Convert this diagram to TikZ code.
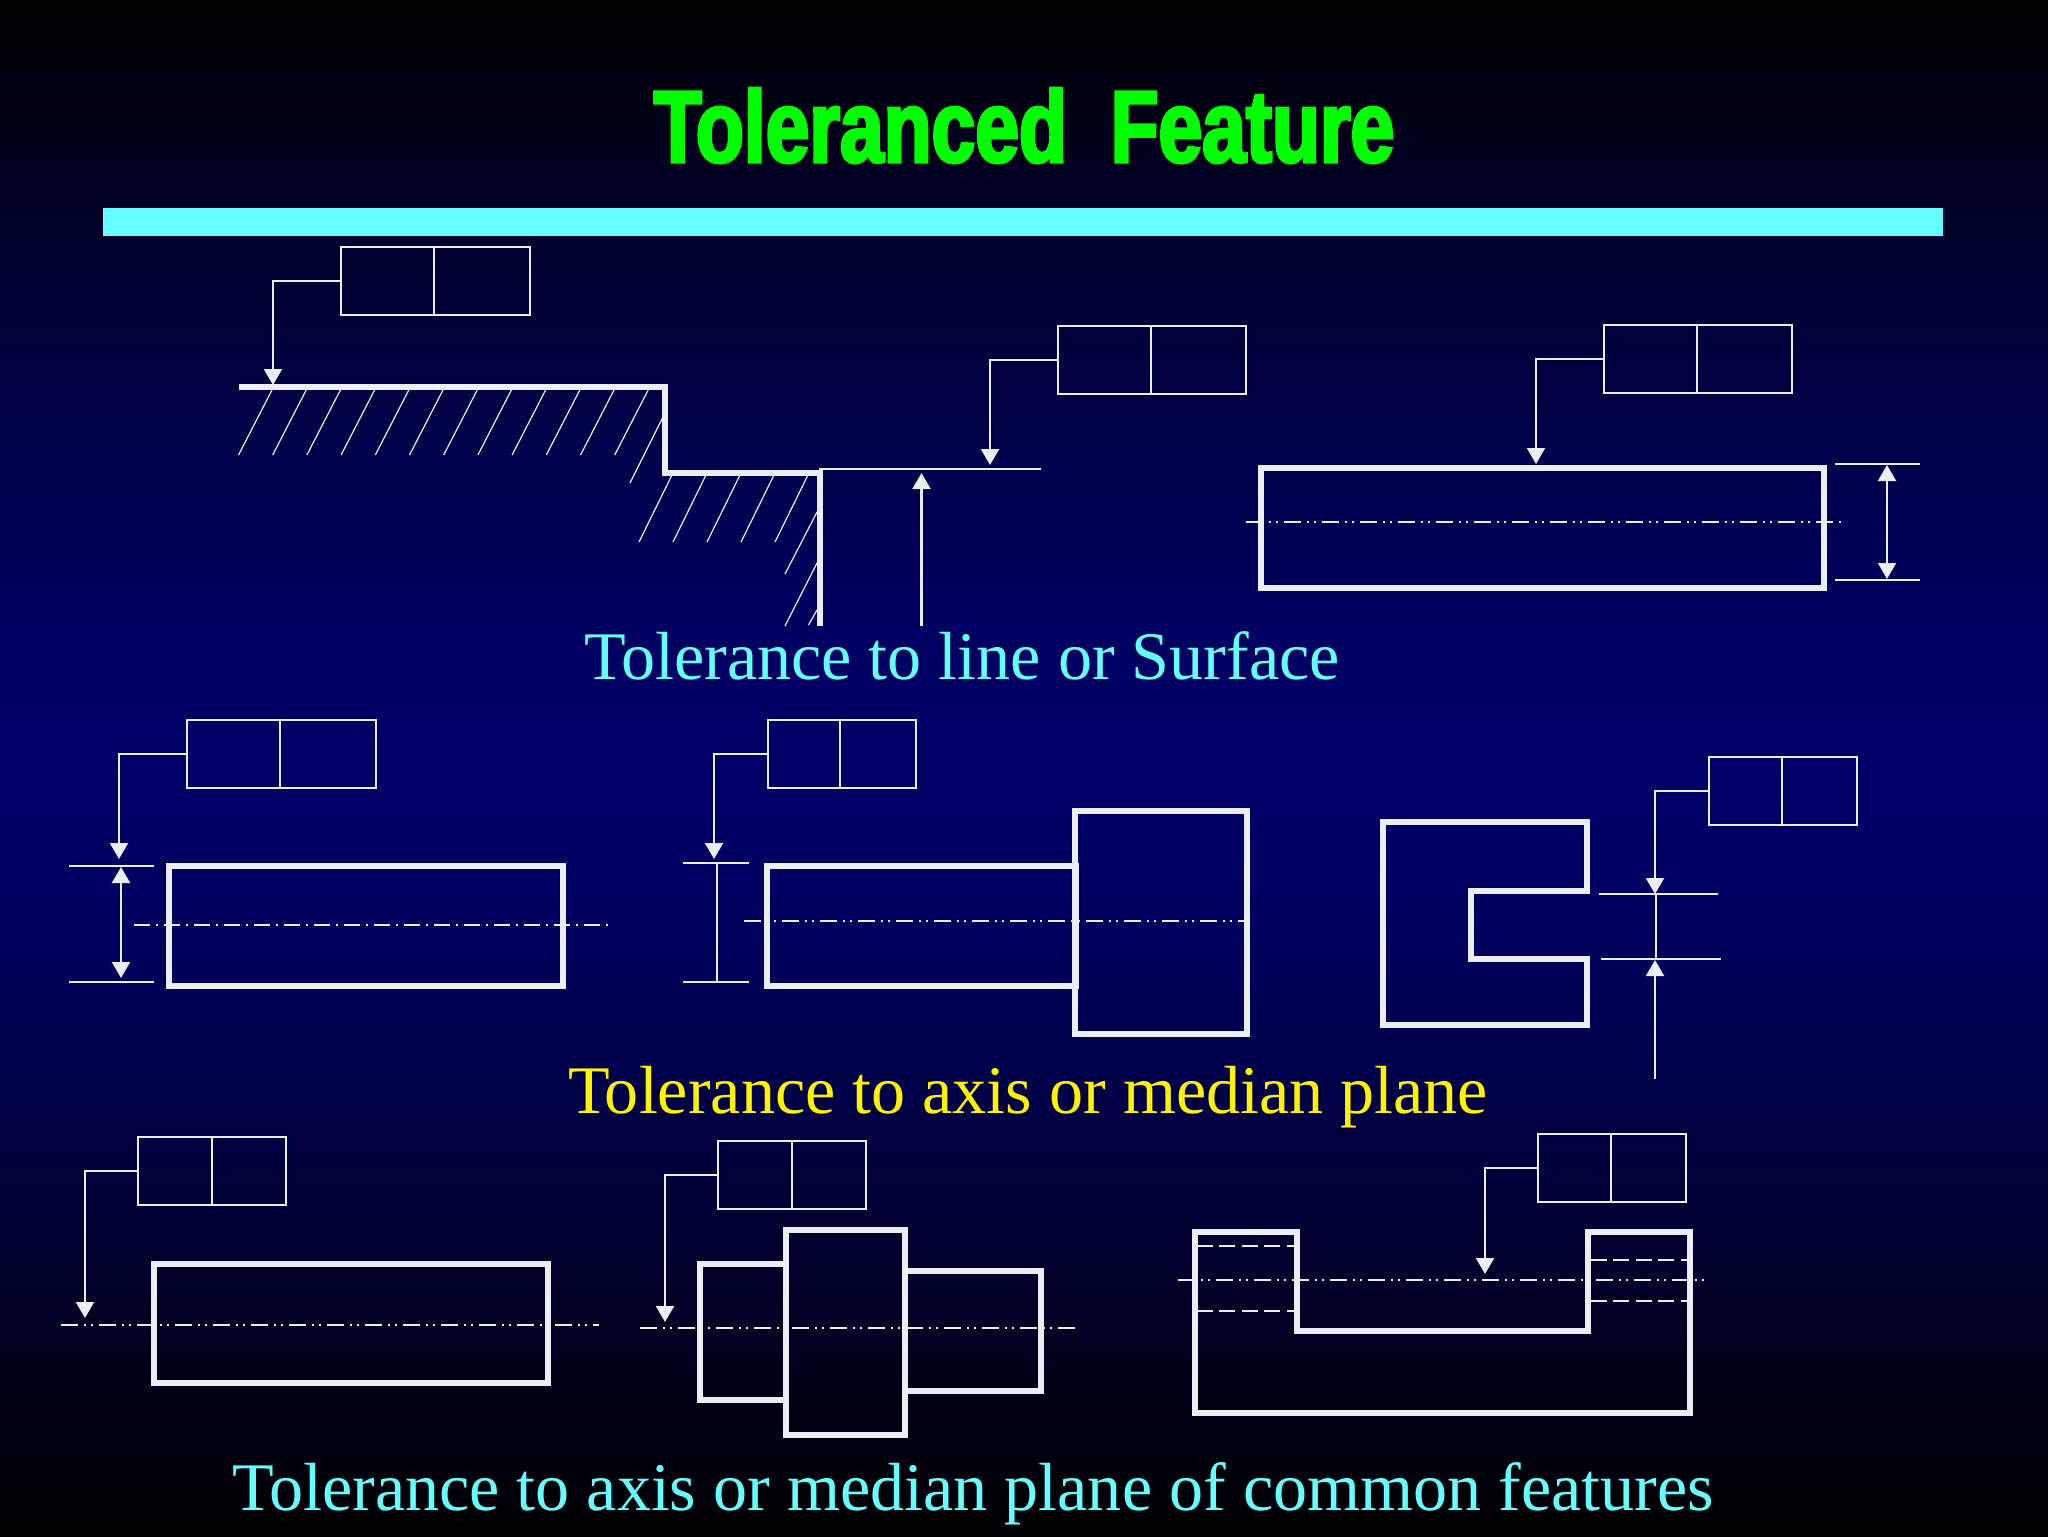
\documentclass[tikz,border=0pt]{standalone}
\usepackage{fontspec}
\usetikzlibrary{positioning,arrows.meta}
\setmainfont{Liberation Serif}
\newfontfamily\titlefont[FakeStretch=0.77,FakeBold=3]{Liberation Sans Bold}
\definecolor{slidecyan}{RGB}{102,255,255}
\definecolor{linewhite}{RGB}{234,237,242}
\pgfdeclareverticalshading{slidegrad}{100bp}{
  rgb(0bp)=(0,0,0); rgb(25bp)=(0,0,0); rgb(31bp)=(0,0,.118); rgb(37.5bp)=(0,0,.243);
  rgb(44bp)=(0,0,.361); rgb(50bp)=(0,0,.408); rgb(55.5bp)=(0,0,.369); rgb(62bp)=(0,0,.267);
  rgb(68.5bp)=(0,0,.149); rgb(75bp)=(0,0,0); rgb(100bp)=(0,0,0)}
\tikzset{
  framecell/.style={draw=linewhite,line width=1pt,inner sep=0pt,outer sep=0pt,minimum height=34pt},
  tolarrow/.style={draw=linewhite,line width=1.1pt,-{Triangle[length=8pt,width=9pt]}},
  dimline/.style={draw=linewhite,line width=.9pt},
  hatchline/.style={draw=linewhite,line width=.6pt},
  outline/.style={draw=linewhite,line width=3pt},
  centerline/.style={draw=linewhite,line width=1.2pt,dash pattern=on 8.5pt off 3pt on 1pt off 2.5pt on 1pt off 3pt},
  hiddenline/.style={draw=linewhite,line width=1pt,dash pattern=on 8pt off 3.2pt},
  caption/.style={anchor=base,font=\fontsize{34.05}{34}\selectfont}
}

\begin{document}
\begin{tikzpicture}[x=0.5pt,y=-0.5pt]
\useasboundingbox (0,0) rectangle (2048,1536);
\shade[shading=slidegrad] (0,0) rectangle (2048,1536);
\fill[slidecyan] (103,208) rectangle (1943,236);
\node[anchor=base,text=green,font=\titlefont\fontsize{51}{51}\selectfont] (title) at (1024,162) {Toleranced\ \ Feature};
\node[caption,text=slidecyan] (capa) at (962,679) {Tolerance to line or Surface};
\node[caption,text=yellow] (capb) at (1028,1113) {Tolerance to axis or median plane};
\node[caption,text=slidecyan] (capc) at (973,1510) {Tolerance to axis or median plane of common features};

% frames with their leaders
\foreach \nfr/\xa/\xb/\xc/\ytop/\xtip/\ytip in {
  1/341/434/529.5/247/273/385,
  2/1058/1151/1246/326/990/465,
  3/1604/1697/1792/325/1536/464,
  4/187/280/375.5/720/119/859,
  5/768/840/915.5/720/714/859,
  6/1709/1782/1857/757/1655/894,
  7/138/212/286/1137/85/1318,
  8/718/792/866/1141/665/1322,
  9/1538/1611/1686/1134/1485/1274}
{
  \node[framecell,anchor=north west,minimum width={(\xb-\xa)*0.5pt}] (fa\nfr) at (\xa,\ytop) {};
  \node[framecell,right=0pt of fa\nfr,minimum width={(\xc-\xb)*0.5pt}] (fb\nfr) {};
  \coordinate (tip\nfr) at (\xtip,\ytip);
  \draw[tolarrow] (fa\nfr.west) -| (tip\nfr);
}

% stepped surface
\draw[outline] (239,387) -- (665,387) -- (665,473) -- (820,473) -- (820,626);
\foreach \i in {0,...,11}
  \draw[hatchline] ({272+34.2*\i},390) -- ++(-33.5,65);
\foreach \i in {0,...,4}
  \draw[hatchline] ({672+34*\i},475) -- ++(-33,67);
\draw[hatchline] (663,417) -- (630,483);
\draw[hatchline] (817,512) -- (785,574);
\draw[hatchline] (817,563) -- (785,626);
\draw[hatchline] (817,610) -- (808.5,625);
\draw[dimline] (819,469) -- (1041,469);
\draw[tolarrow] (921.5,626) -- (921.5,473);

% shaft, top right
\draw[outline] (1261,468) rectangle (1824,588);
\draw[centerline] (1246,522) -- (1846,522);
\draw[dimline] (1835,464) -- (1920,464);
\draw[dimline] (1835,580) -- (1920,580);
\coordinate (dimc) at (1887,522);
\draw[tolarrow] (dimc) -- (1887,465);
\draw[tolarrow] (dimc) -- (1887,579);

% second row
\draw[outline] (169,866) rectangle (563,986);
\draw[centerline,dash pattern=on 8pt off 3pt on 1pt off 3pt] (134,925) -- (611,925);
\draw[dimline] (69,866) -- (153.5,866);
\draw[dimline] (69,982) -- (153.5,982);
\coordinate (dimd) at (121,925);
\draw[tolarrow] (dimd) -- (121,867);
\draw[tolarrow] (dimd) -- (121,978);

\draw[outline] (767,866) rectangle (1076,986);
\draw[outline] (1075,811) rectangle (1247,1034);
\draw[centerline] (744,921) -- (1247,921);
\draw[dimline] (683,863) -- (749,863);
\draw[dimline] (683,982) -- (749,982);
\draw[dimline] (717,863) -- (717,982);

\draw[outline] (1383,822) -- (1587,822) -- (1587,891) -- (1471,891) -- (1471,959) -- (1587,959) -- (1587,1025) -- (1383,1025) -- cycle;
\draw[dimline] (1599,894) -- (1718,894);
\draw[dimline] (1601,959) -- (1721,959);
\draw[dimline] (1656,894) -- (1656,959);
\draw[tolarrow] (1655,1079) -- (1655,960);

% third row
\draw[outline] (153.5,1264) rectangle (548,1383);
\draw[centerline] (61,1325) -- (599,1325);

\draw[outline] (786,1264) -- (700,1264) -- (700,1400) -- (786,1400);
\draw[outline] (905,1271) -- (1041,1271) -- (1041,1391) -- (905,1391);
\draw[outline] (786,1230) rectangle (905,1435);
\draw[centerline] (640,1328) -- (1076,1328);

\draw[outline] (1195,1232) -- (1297,1232) -- (1297,1331) -- (1588,1331) -- (1588,1232) -- (1690,1232) -- (1690,1413) -- (1195,1413) -- cycle;
\draw[hiddenline] (1197,1246) -- (1295,1246);
\draw[hiddenline] (1197,1311) -- (1295,1311);
\draw[hiddenline] (1591,1260) -- (1688,1260);
\draw[hiddenline] (1591,1301) -- (1688,1301);
\draw[centerline] (1178,1280) -- (1707,1280);
\end{tikzpicture}
\end{document}
